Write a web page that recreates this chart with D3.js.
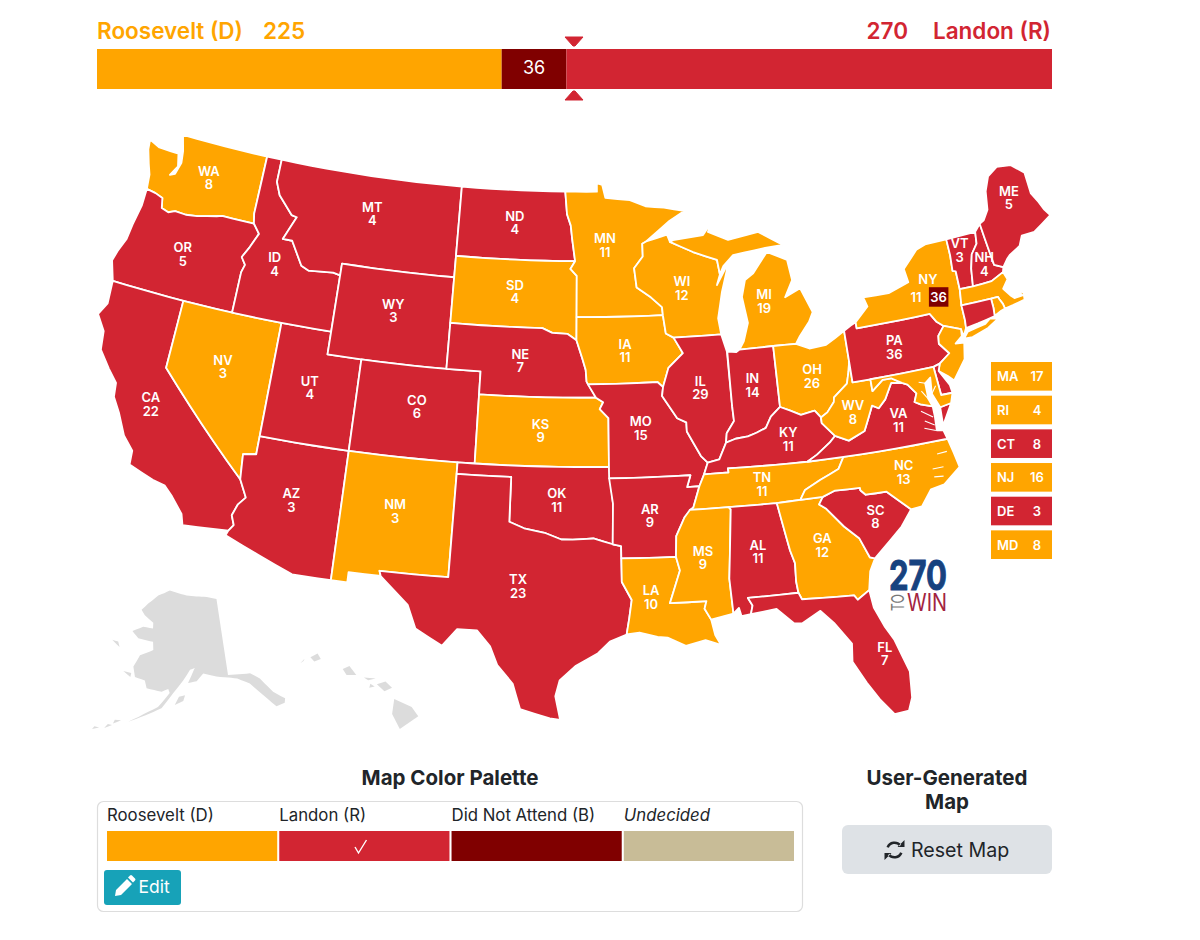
<!DOCTYPE html>
<html>
<head>
<meta charset="utf-8">
<script src="https://cdn.jsdelivr.net/npm/d3@7"></script>
<style>
body { margin: 0; background: #fff; }
text { font-family: Inter, "Noto Sans", sans-serif; }
</style>
</head>
<body>
<svg id="chart" width="1200" height="940"></svg>
<script>
// scoreboard
var candidates = ["Roosevelt (D)", "Landon (R)", "Did Not Attend (B)", "Undecided"];
var partyColors = ["#ffa500", "#d22532", "#800000", "#c8bc97"];
var barValues = [225, 36, 270];
var totalVotes = 531;

// states
var stateIds = ["WA","OR","CA","NV","ID","MT","WY","UT","AZ","CO","NM","ND","SD","NE","KS","OK","TX","MN","IA","MO","AR","LA","WI","IL","MI","IN","OH","KY","TN","MS","AL","GA","FL","SC","NC","VA","WV","PA","NY","VT","NH","ME"];
var stateVotes = [8,5,22,3,4,4,3,4,3,6,3,4,4,7,9,11,23,11,11,15,9,10,12,29,19,14,26,11,11,9,11,12,7,8,13,11,8,36,11,3,4,5];
var stateWinner = [0,1,1,0,1,1,1,1,1,1,0,1,0,1,0,1,1,0,0,1,1,0,0,1,0,1,0,1,0,0,1,0,1,1,0,1,0,1,0,1,1,1];
var labelAt = [[-120.37,47.6],[-120.73,44.07],[-120.3,37.43],[-116.83,39.73],[-115.1,44.55],[-109.6,47.48],[-107.5,43.38],[-111.72,39.56],[-111.7,34.63],[-105.5,39.35],[-106.1,34.75],[-100.4,47.66],[-100.2,44.65],[-99.7,41.66],[-98.4,38.66],[-97.42,35.67],[-99.36,31.88],[-94.6,46.75],[-93.5,42.13],[-92.73,38.75],[-92.4,34.93],[-92.5,31.39],[-89.9,44.73],[-89.2,40.35],[-84.95,43.85],[-86.18,40.26],[-82.7,40.34],[-84.5,37.77],[-86.22,35.97],[-89.7,32.99],[-86.8,33.06],[-83.4,33.02],[-81.05,27.95],[-80.4,33.91],[-78.5,35.6],[-78.25,37.86],[-80.7,38.54],[-77.7,40.99],[-75,43.29],[-72.62,44.49],[-71.37,43.63],[-68.8,46.14]];

// small states in the side boxes
var sideIds = ["MA","RI","CT","NJ","DE","MD"];
var sideVotes = [17,4,8,16,3,8];
var sideWinner = [0,0,1,0,1,0];

// outlines, lon/lat read by eye
var outlines = {
  WA: [[[-124.73,48.38],[-124,48.17],[-123.2,48.15],[-122.7,48.15],[-122.5,47.6],[-122.85,47.15],[-122.55,47.25],[-122.35,47.8],[-122.45,48.3],[-122.75,49],[-117.03,49],[-117.04,46.42],[-116.92,45.995],[-118.98,46],[-119.3,45.93],[-120.5,45.72],[-121.2,45.65],[-121.9,45.68],[-122.3,45.55],[-122.76,45.65],[-122.9,46.08],[-123.4,46.2],[-124,46.27],[-124.07,46.7],[-124.1,46.9],[-124.35,47.35],[-124.65,47.95]]],
  OR: [[[-124,46.27],[-123.4,46.2],[-122.9,46.08],[-122.76,45.65],[-122.3,45.55],[-121.9,45.68],[-121.2,45.65],[-120.5,45.72],[-119.3,45.93],[-118.98,46],[-116.92,45.995],[-116.47,45.6],[-116.85,44.95],[-117.2,44.45],[-116.9,44.15],[-117.03,43.8],[-117.03,42],[-120,42],[-124.35,42],[-124.75,42.84],[-124.6,43.3],[-124.3,43.9],[-124.2,44.6],[-124,45.5]]],
  CA: [[[-124.35,42],[-124.3,41.5],[-124.25,41],[-124.6,40.44],[-124,39.8],[-123.85,39],[-123.1,38.3],[-122.5,37.8],[-122.4,37.2],[-121.9,36.6],[-121.3,35.7],[-120.65,35.15],[-120.6,34.55],[-119.2,34.15],[-118.5,34.03],[-118,33.65],[-117.3,33],[-117.12,32.53],[-114.72,32.72],[-114.5,33],[-114.7,33.4],[-114.5,33.9],[-114.15,34.27],[-114.63,35],[-120,39],[-120,42]]],
  NV: [[[-120,42],[-114.04,42],[-114.04,36.2],[-114.75,36.1],[-114.63,35],[-120,39]]],
  AZ: [[[-114.04,37],[-109.05,37],[-109.05,31.33],[-111.07,31.33],[-114.81,32.5],[-114.72,32.72],[-114.5,33],[-114.7,33.4],[-114.5,33.9],[-114.15,34.27],[-114.63,35],[-114.75,36.1],[-114.04,36.2]]],
  UT: [[[-114.04,42],[-111.05,42],[-111.05,41],[-109.05,41],[-109.05,37],[-114.04,37]]],
  ID: [[[-117.03,49],[-116.05,49],[-116.05,48],[-115.7,47.45],[-114.7,46.7],[-114.35,46.65],[-114.95,45.6],[-114.35,45.6],[-113.5,44.6],[-113,44.45],[-111.5,44.55],[-111.05,44.48],[-111.05,42],[-114.04,42],[-117.03,42],[-117.03,43.8],[-116.9,44.15],[-117.2,44.45],[-116.85,44.95],[-116.47,45.6],[-116.92,45.995],[-117.04,46.42]]],
  MT: [[[-116.05,49],[-104.05,49],[-104.05,45],[-111.05,45],[-111.05,44.48],[-111.5,44.55],[-113,44.45],[-113.5,44.6],[-114.35,45.6],[-114.95,45.6],[-114.35,46.65],[-114.7,46.7],[-115.7,47.45],[-116.05,48]]],
  WY: [[[-111.05,45],[-104.05,45],[-104.05,41],[-111.05,41]]],
  CO: [[[-109.05,41],[-102.05,41],[-102.05,37],[-109.05,37]]],
  NM: [[[-109.05,37],[-103,37],[-103.04,32],[-106.62,32],[-106.53,31.78],[-108.2,31.78],[-108.2,31.33],[-109.05,31.33]]],
  ND: [[[-104.05,49],[-97.23,49],[-97.1,48],[-96.85,47.5],[-96.75,46.9],[-96.56,45.94],[-104.05,45.94]]],
  SD: [[[-104.05,45.94],[-96.56,45.94],[-96.85,45.6],[-96.45,45.3],[-96.45,43.5],[-96.45,42.49],[-97,42.77],[-97.9,42.8],[-98.5,43],[-104.05,43]]],
  NE: [[[-104.05,43],[-98.5,43],[-97.9,42.8],[-97,42.77],[-96.45,42.49],[-96.1,41.7],[-95.9,41.2],[-95.85,40.7],[-95.31,40],[-102.05,40],[-102.05,41],[-104.05,41]]],
  KS: [[[-102.05,40],[-95.31,40],[-94.9,39.8],[-95.1,39.5],[-94.61,39.11],[-94.62,37],[-102.05,37]]],
  OK: [[[-103,37],[-94.62,37],[-94.43,35.4],[-94.48,33.64],[-95.5,33.9],[-96.6,33.85],[-97.2,33.85],[-98.1,34.13],[-99.2,34.3],[-100,34.56],[-100,36.5],[-103,36.5]]],
  TX: [[[-103,36.5],[-100,36.5],[-100,34.56],[-99.2,34.3],[-98.1,34.13],[-97.2,33.85],[-96.6,33.85],[-95.5,33.9],[-94.48,33.64],[-94.04,33.55],[-94.04,33.02],[-94.04,31.99],[-93.55,31.2],[-93.7,30.4],[-93.85,29.7],[-94.7,29.4],[-95.3,28.9],[-96.4,28.35],[-97.2,27.7],[-97.4,27],[-97.15,25.96],[-97.65,26.02],[-99.1,26.4],[-99.5,27.5],[-100.3,28.3],[-100.7,29.1],[-101.4,29.77],[-102.4,29.77],[-103.1,29],[-104.5,29.65],[-105,30.65],[-106.53,31.78],[-106.62,32],[-103.04,32]]],
  MN: [[[-97.23,49],[-95.15,49],[-95.15,49.38],[-94.8,49.3],[-94.6,48.72],[-93,48.6],[-92,48.3],[-90.8,48.2],[-89.5,48],[-90.5,47.6],[-92.05,46.75],[-92.3,46.66],[-92.3,46.1],[-92.87,45.6],[-92.75,44.75],[-91.9,44.3],[-91.25,43.85],[-91.22,43.5],[-96.45,43.5],[-96.45,45.3],[-96.85,45.6],[-96.56,45.94],[-96.75,46.9],[-96.85,47.5],[-97.1,48]]],
  IA: [[[-96.45,43.5],[-91.22,43.5],[-91.1,42.7],[-90.65,42.5],[-90.15,41.8],[-91.05,41.2],[-91.42,40.38],[-91.73,40.61],[-95.77,40.58],[-95.85,40.7],[-95.9,41.2],[-96.1,41.7],[-96.45,42.49]]],
  MO: [[[-95.77,40.58],[-91.73,40.61],[-91.42,40.38],[-91.5,40],[-90.7,39],[-90.2,38.8],[-90.2,38.4],[-89.5,37.3],[-89.15,37],[-89.4,36.5],[-89.7,36],[-90.37,36],[-90.15,36.5],[-94.62,36.5],[-94.62,37],[-94.61,39.11],[-95.1,39.5],[-94.9,39.8],[-95.31,40]]],
  AR: [[[-94.62,36.5],[-90.15,36.5],[-90.37,36],[-89.7,36],[-90.1,35.1],[-90.6,34.7],[-91.1,33.9],[-91.17,33],[-94.04,33.02],[-94.04,33.55],[-94.48,33.64],[-94.43,35.4]]],
  LA: [[[-94.04,33.02],[-91.17,33],[-91,32.4],[-91.6,31],[-89.73,31],[-89.85,30.67],[-89.55,30.18],[-89.4,29.5],[-89.15,29.05],[-89.9,29.3],[-90.9,29.1],[-91.8,29.5],[-92.3,29.55],[-93.2,29.77],[-93.85,29.7],[-93.7,30.4],[-93.55,31.2],[-94.04,31.99]]],
  WI: [[[-92.3,46.66],[-92.05,46.75],[-90.7,47],[-90.54,46.68],[-89.12,46.17],[-87.66,45.74],[-87.56,45.1],[-87.8,44.65],[-86.95,45.6],[-87.53,44.33],[-87.9,43.2],[-87.8,42.49],[-90.65,42.5],[-91.1,42.7],[-91.22,43.5],[-91.25,43.85],[-91.9,44.3],[-92.75,44.75],[-92.87,45.6],[-92.3,46.1]]],
  IL: [[[-90.65,42.5],[-87.8,42.49],[-87.55,41.72],[-87.53,39.35],[-87.5,38.7],[-87.97,38.2],[-88.05,37.8],[-88.5,37.1],[-89.15,37],[-89.5,37.3],[-90.2,38.4],[-90.2,38.8],[-90.7,39],[-91.5,40],[-91.42,40.38],[-91.05,41.2],[-90.15,41.8]]],
  MI: [[[-86.8,41.76],[-84.8,41.76],[-83.45,41.73],[-83.15,42.05],[-82.5,42.6],[-82.2,43],[-82.75,44.1],[-83.73,43.8],[-83.17,44.5],[-83.31,45.4],[-84.5,45.86],[-85.05,45.4],[-85.5,45],[-86.05,44.75],[-86.34,44.03],[-86.14,42.88],[-86.5,42.1]],
       [[-90.54,46.68],[-89.12,46.17],[-87.66,45.74],[-87.56,45.1],[-87.3,45.45],[-86.63,45.89],[-84.58,46.05],[-83.44,46.08],[-84.9,46.78],[-86.85,46.57],[-88.08,47],[-87.69,47.5],[-88.41,46.88],[-90.34,46.75]],
       [[-89.1,47.95],[-88.45,48.18],[-88.95,48.02]]],
  IN: [[[-87.53,41.72],[-87,41.67],[-86.8,41.76],[-84.8,41.76],[-84.82,39.1],[-85.4,38.73],[-85.75,38.27],[-86.3,38.1],[-86.8,37.98],[-87.5,37.93],[-88.05,37.8],[-87.97,38.2],[-87.5,38.7],[-87.53,39.35]]],
  OH: [[[-84.8,41.76],[-83.45,41.73],[-82.7,41.45],[-81.7,41.5],[-80.52,41.98],[-80.52,40.64],[-80.65,40.2],[-80.85,39.7],[-81.7,39.2],[-81.75,39],[-82.2,38.6],[-82.6,38.42],[-82.9,38.75],[-83.7,38.65],[-84.3,38.9],[-84.82,39.1]]],
  KY: [[[-89.4,36.5],[-88.05,36.5],[-88.07,36.68],[-83.68,36.6],[-83.1,36.85],[-82.3,37.3],[-81.97,37.54],[-82.6,38.17],[-82.6,38.42],[-82.9,38.75],[-83.7,38.65],[-84.3,38.9],[-84.82,39.1],[-85.4,38.73],[-85.75,38.27],[-86.3,38.1],[-86.8,37.98],[-87.5,37.93],[-88.05,37.8],[-88.5,37.1],[-89.15,37]]],
  TN: [[[-90.3,35],[-88.2,35],[-85.6,34.98],[-84.32,35],[-84,35.4],[-83.1,35.75],[-82.05,36.1],[-81.68,36.59],[-83.68,36.6],[-88.07,36.68],[-88.05,36.5],[-89.4,36.5],[-89.7,36],[-90.1,35.1]]],
  MS: [[[-91.17,33],[-91.1,33.9],[-90.6,34.7],[-90.3,35],[-88.2,35],[-88.1,34.9],[-88.47,31.9],[-88.4,30.37],[-89.55,30.18],[-89.85,30.67],[-89.73,31],[-91.6,31],[-91,32.4]]],
  AL: [[[-88.2,35],[-85.6,34.98],[-85.18,32.87],[-85,32.3],[-85.05,31.5],[-85,31],[-87.6,31],[-87.4,30.65],[-87.52,30.28],[-88,30.23],[-88.1,30.6],[-88.4,30.37],[-88.47,31.9],[-88.1,34.9]]],
  GA: [[[-85.6,34.98],[-84.32,35],[-83.1,35],[-83.35,34.7],[-83,34.47],[-82.2,33.6],[-81.5,33],[-81.1,32.1],[-80.85,32.03],[-81.2,31.5],[-81.4,30.7],[-82.05,30.36],[-82.2,30.57],[-84.86,30.7],[-85,31],[-85.05,31.5],[-85,32.3],[-85.18,32.87]]],
  FL: [[[-87.6,31],[-85,31],[-84.86,30.7],[-82.2,30.57],[-82.05,30.36],[-81.4,30.7],[-81.3,29.9],[-80.9,29],[-80.55,28.4],[-80.05,26.9],[-80.15,25.75],[-80.4,25.2],[-81.1,25.15],[-81.7,25.9],[-82.2,26.7],[-82.75,27.7],[-82.65,28.5],[-83.4,29.5],[-84,30.1],[-85,29.65],[-85.4,29.7],[-86.2,30.4],[-87.52,30.28],[-87.4,30.65]],
       [[-81.8,24.5],[-81,24.7],[-80.5,25],[-80.9,24.78]]],
  SC: [[[-83.1,35],[-82.4,35.2],[-81.05,35.15],[-81.05,35.05],[-80.8,34.82],[-79.67,34.8],[-78.55,33.86],[-79.2,33.2],[-79.9,32.7],[-80.85,32.03],[-81.1,32.1],[-81.5,33],[-82.2,33.6],[-83,34.47],[-83.35,34.7]]],
  NC: [[[-84.32,35],[-83.1,35],[-82.4,35.2],[-81.05,35.15],[-81.05,35.05],[-80.8,34.82],[-79.67,34.8],[-78.55,33.86],[-77.95,33.9],[-77.3,34.55],[-76.55,34.65],[-75.55,35.25],[-75.7,35.9],[-75.87,36.55],[-81.68,36.59],[-82.05,36.1],[-83.1,35.75],[-84,35.4]]],
  VA: [[[-83.68,36.6],[-81.68,36.59],[-75.87,36.55],[-76,36.95],[-76.35,37],[-76.3,37.6],[-76.3,38.05],[-76.95,38.25],[-77.25,38.4],[-77.05,38.75],[-77.45,39.2],[-77.75,39.32],[-78.35,39.4],[-78.85,38.75],[-79.3,38.42],[-79.65,38.58],[-80.3,37.55],[-81.25,37.25],[-81.97,37.54],[-82.3,37.3],[-83.1,36.85]],
       [[-75.25,38.03],[-75.9,37.95],[-75.95,37.15]]],
  WV: [[[-80.52,40.64],[-80.52,39.72],[-79.48,39.72],[-79.48,39.2],[-78.8,39.6],[-78.3,39.6],[-77.75,39.32],[-78.35,39.4],[-78.85,38.75],[-79.3,38.42],[-79.65,38.58],[-80.3,37.55],[-81.25,37.25],[-81.97,37.54],[-82.6,38.17],[-82.6,38.42],[-82.2,38.6],[-81.75,39],[-81.7,39.2],[-80.85,39.7],[-80.65,40.2]]],
  PA: [[[-80.52,41.98],[-80.08,42.16],[-79.76,42.27],[-79.76,42],[-75.35,42],[-75.05,41.6],[-74.7,41.36],[-75.13,40.99],[-75.2,40.65],[-74.73,40.15],[-75.4,39.8],[-75.79,39.72],[-80.52,39.72],[-80.52,40.64]]],
  NY: [[[-79.76,42.27],[-78.9,42.85],[-79.05,43.27],[-77.5,43.25],[-76.2,43.55],[-76.3,44.15],[-75.3,44.85],[-74.7,45],[-73.35,45],[-73.35,44.3],[-73.43,43.6],[-73.25,43.55],[-73.27,42.75],[-73.4,42.05],[-73.4,41.4],[-73.45,41.05],[-73.7,40.72],[-73.75,41.05],[-74.7,41.36],[-75.05,41.6],[-75.35,42],[-79.76,42]],
       [[-73.7,40.62],[-73.4,40.88],[-72.3,41.02],[-71.95,41.2],[-71.5,41.1],[-72.2,40.82],[-73.2,40.6]]],
  VT: [[[-73.35,45],[-71.5,45.01],[-71.6,44.5],[-72.05,44.1],[-72.3,43.5],[-72.46,42.73],[-73.27,42.75],[-73.25,43.55],[-73.43,43.6],[-73.35,44.3]]],
  NH: [[[-71.5,45.01],[-71.1,45.3],[-71.03,44.6],[-70.9,43.4],[-70.4,43.2],[-70.5,43],[-71.3,42.75],[-72.46,42.73],[-72.3,43.5],[-72.05,44.1],[-71.6,44.5]]],
  ME: [[[-71.1,45.3],[-70.8,45.4],[-70.4,45.8],[-70.2,46.6],[-69.8,47.2],[-69.1,47.5],[-68.2,47.4],[-67.5,46.9],[-67.5,45.95],[-67.2,45.5],[-67,45.1],[-66.75,44.8],[-68,44.3],[-68.8,44.3],[-69.1,43.9],[-69.8,43.65],[-70.05,43.5],[-70.4,43.2],[-70.9,43.4],[-71.03,44.6]]],
  MA: [[[-73.4,42.05],[-73.27,42.75],[-72.46,42.73],[-71.3,42.75],[-70.5,43],[-70.35,42.65],[-70.75,42.3],[-70.45,41.95],[-70.25,41.78],[-69.75,41.8],[-69.95,42.07],[-69.65,41.9],[-69.7,41.6],[-70.45,41.5],[-70.95,41.45],[-71,41.67],[-71.13,41.9],[-71.18,42.02],[-71.6,42.02]]],
  RI: [[[-71.6,42.02],[-71.18,42.02],[-71.13,41.9],[-71,41.67],[-70.95,41.45],[-71.2,41.4],[-71.65,41.25],[-71.6,41.6]]],
  CT: [[[-73.4,42.05],[-71.6,42.02],[-71.6,41.6],[-71.65,41.25],[-72.7,41.12],[-73.45,41.05],[-73.4,41.4]]],
  NJ: [[[-74.7,41.36],[-73.75,41.05],[-73.8,40.75],[-74.25,40.5],[-73.75,40.45],[-73.95,39.75],[-74.8,38.95],[-75.1,39.2],[-75.55,39.5],[-75.4,39.8],[-74.73,40.15],[-75.2,40.65],[-75.13,40.99]]],
  DE: [[[-75.79,39.72],[-75.4,39.8],[-75.55,39.5],[-75.1,38.8],[-75.05,38.45],[-75.7,38.46]]],
  MD: [[[-79.48,39.72],[-75.79,39.72],[-75.7,38.46],[-75.05,38.45],[-75.25,38.03],[-75.9,37.95],[-76.2,38.6],[-76.1,39.3],[-76.45,39.1],[-76.45,38.4],[-76.3,38.05],[-76.95,38.25],[-77.25,38.4],[-77.05,38.75],[-77.45,39.2],[-77.75,39.32],[-78.3,39.6],[-78.8,39.6],[-79.48,39.2]]]
};
var sideWinnerById = {};
sideIds.forEach(function(id, i) { sideWinnerById[id] = sideWinner[i]; });

// rivers and sounds that show as white cuts
var inlets = [
  [[-77,37.95],[-76.4,37.6]], [[-76.9,37.5],[-76.4,37.25]], [[-77,37.2],[-76.4,37]],
  [[-76.6,36],[-76.05,36.02]], [[-77,35.4],[-76.4,35.4]], [[-77,35.05],[-76.5,35]],
  [[-76.8,39.2],[-76.45,39.1]], [[-76.75,38.8],[-76.45,38.4]], [[-75.9,38.9],[-76.2,38.6]]
];

var alaska = [
  [[-141,69.7],[-141,60.3],[-135.6,60],[-133.6,59.1],[-131.5,57.1],[-129.4,55.9],[-129.8,55.4],[-131.7,55.3],[-133.9,57.1],[-136.2,58.8],[-138.9,59.7],[-141,60],[-143.9,60.3],[-147.1,60.8],[-148.8,59.9],[-150.9,59.7],[-149.2,61.5],[-150.4,61.3],[-152.1,60],[-154.4,58.4],[-156.8,56.5],[-160.2,55.4],[-163.5,54.3],[-159.6,55.9],[-157.6,56.6],[-155.2,58.4],[-155.6,58.9],[-157.1,58.5],[-160.7,58.7],[-161.4,59.6],[-163.9,59.8],[-164.8,61],[-163.7,62.5],[-160.4,63.4],[-160.8,64.4],[-165.1,64.5],[-167.2,65.2],[-164.4,66],[-161.4,66],[-161.6,66.7],[-164.6,67.4],[-166,68],[-164.3,68.9],[-161.4,70.1],[-157.5,70.9],[-151.4,70.4],[-144.3,70.1]],
  [[-153.9,57],[-152,57.5],[-151.6,58.2],[-153,58]],
  [[-172,63.5],[-169.5,62.9],[-170.3,63.5]],
  [[-167,60.2],[-165,59.7],[-165,60.2]],
  [[-165,54.3],[-166.5,53.7],[-166.3,54.2]],
  [[-166.6,53.5],[-168,52.9],[-167.5,53.5]],
  [[-169,52.8],[-170.3,52.4],[-170,52.8]]
];
var hawaii = [
  [[-155.9,20.25],[-155.1,19.9],[-154.8,19.5],[-155.65,18.95],[-156,19.6]],
  [[-156.7,20.9],[-156.35,20.6],[-156,20.75],[-156.3,21.02]],
  [[-157.3,21.2],[-156.75,21.15],[-157.1,21.08]],
  [[-158.28,21.57],[-157.97,21.7],[-157.65,21.3],[-158.1,21.3]],
  [[-159.78,22.07],[-159.45,22.23],[-159.3,22],[-159.6,21.88]],
  [[-160.25,21.8],[-160.05,22],[-160.1,21.9]],
  [[-157,20.92],[-156.8,20.8],[-157.05,20.75]]
];

var svg = d3.select("#chart");

// scoreboard bar
var barScale = d3.scaleLinear().domain([0, totalVotes]).range([97, 1052]);
var barTop = 49, barHeight = 40;
var cum = 0;
var barColors = [partyColors[0], partyColors[2], partyColors[1]];
barValues.forEach(function(v, i) {
    svg.append("rect")
        .attr("x", barScale(cum)).attr("y", barTop)
        .attr("width", barScale(cum + v) - barScale(cum)).attr("height", barHeight)
        .attr("fill", barColors[i]);
    cum += v;
});
svg.append("text").attr("x", barScale(225 + 18)).attr("y", 74)
    .attr("text-anchor", "middle").attr("fill", "#fff").attr("font-size", 18).text(barValues[1]);

var boldTop = function(x, anchor, color, txt) {
    svg.append("text").attr("x", x).attr("y", 39).attr("text-anchor", anchor)
        .attr("fill", color).attr("font-size", 22.5).attr("font-weight", 600).text(txt);
};
boldTop(97, "start", partyColors[0], candidates[0]);
boldTop(263, "start", partyColors[0], barValues[0]);
boldTop(908, "end", partyColors[1], barValues[2]);
boldTop(1051, "end", partyColors[1], candidates[1]);

// 270 markers
var mid = barScale(totalVotes / 2) - 0.5;
svg.append("path").attr("fill", partyColors[1]).attr("stroke", partyColors[1]).attr("stroke-linejoin", "round")
    .attr("d", "M" + (mid - 9) + ",37 h18 l-8,9 h-2 z");
svg.append("path").attr("fill", partyColors[1]).attr("stroke", partyColors[1]).attr("stroke-linejoin", "round")
    .attr("d", "M" + (mid - 9) + ",100 h18 l-8,-9 h-2 z");

// map
var projection = d3.geoAlbers().parallels([29.5, 45.5]).rotate([96, 0]).center([0, 37])
    .scale(1310).translate([584, 467]);
var path = d3.geoPath(projection);

// long edges have to follow the parallels, so split them before projecting
var densify = function(ring) {
    var out = [];
    ring.forEach(function(p, i) {
        var q = ring[(i + 1) % ring.length];
        var n = Math.ceil(Math.max(Math.abs(q[0] - p[0]), Math.abs(q[1] - p[1])));
        for (var k = 0; k < n; k++) {
            out.push([p[0] + (q[0] - p[0]) * k / n, p[1] + (q[1] - p[1]) * k / n]);
        }
    });
    out.push(out[0]);
    return out;
};
var toFeature = function(id, rings, color) {
    var polys = rings.map(function(r) {
        var ring = densify(r);
        // d3-geo wants clockwise rings
        if (d3.geoArea({type: "Polygon", coordinates: [ring]}) > 2 * Math.PI) ring.reverse();
        return [ring];
    });
    return {type: "Feature", id: id, color: color, geometry: {type: "MultiPolygon", coordinates: polys}};
};

var features = Object.keys(outlines).map(function(id) {
    var i = stateIds.indexOf(id);
    var w = i >= 0 ? stateWinner[i] : sideWinnerById[id];
    return toFeature(id, outlines[id], partyColors[w]);
});

var gray = "#dcdcdc";
var akProjection = d3.geoConicEqualArea().parallels([55, 65]).rotate([151, 0]).center([10, 60.3])
    .scale(470).translate([228, 675]);
var hiProjection = d3.geoConicEqualArea().parallels([8, 18]).rotate([157, 0]).center([1.5, 19.6])
    .scale(1320).translate([403, 714]);

svg.append("g").selectAll("path").data(alaska).enter().append("path")
    .attr("fill", gray)
    .attr("d", function(r) { return d3.geoPath(akProjection)(toFeature("AK", [r]).geometry); });
svg.append("g").selectAll("path").data(hawaii).enter().append("path")
    .attr("fill", gray)
    .attr("d", function(r) { return d3.geoPath(hiProjection)(toFeature("HI", [r]).geometry); });

svg.append("g").selectAll("path").data(features).enter().append("path")
    .attr("d", path)
    .attr("fill", function(d) { return d.color; })
    .attr("stroke", "#fff").attr("stroke-width", 1.8).attr("stroke-linejoin", "round");

svg.append("g").selectAll("path").data(inlets).enter().append("path")
    .attr("d", function(l) { return path({type: "LineString", coordinates: l}); })
    .attr("fill", "none").attr("stroke", "#fff").attr("stroke-width", 1.1);

// state labels
var labels = svg.append("g").attr("transform", "translate(-1,0.5)").attr("fill", "#fff").attr("font-size", 13).attr("font-weight", 600).attr("text-anchor", "middle");
stateIds.forEach(function(id, i) {
    var p = projection(labelAt[i]);
    if (id === "NY") {
        labels.append("text").attr("x", p[0]).attr("y", p[1]).text(id);
        labels.append("text").attr("x", p[0] - 12).attr("y", p[1] + 18).text(stateVotes[i]);
        labels.append("rect").attr("x", p[0] + 1).attr("y", p[1] + 3).attr("width", 19.5).attr("height", 19.5).attr("fill", partyColors[2]);
        labels.append("text").attr("x", p[0] + 10.7).attr("y", p[1] + 18).text(barValues[1]);
    } else {
        var t = labels.append("text").attr("x", p[0]).attr("y", p[1]);
        t.append("tspan").text(id);
        t.append("tspan").attr("x", p[0]).attr("dy", 13.5).text(stateVotes[i]);
    }
});

// side boxes
var sideY = d3.scaleBand().domain(sideIds).range([362, 559]).paddingInner(0.15);
var side = svg.append("g").selectAll("g").data(sideIds).enter().append("g");
side.append("rect").attr("x", 991).attr("width", 61)
    .attr("y", function(d) { return sideY(d); }).attr("height", sideY.bandwidth())
    .attr("fill", function(d, i) { return partyColors[sideWinner[i]]; });
side.append("text").attr("x", 997).attr("y", function(d) { return sideY(d) + sideY.bandwidth() / 2 + 5; })
    .attr("fill", "#fff").attr("font-size", 13).attr("font-weight", 600).text(function(d) { return d; });
side.append("text").attr("x", 1037).attr("y", function(d) { return sideY(d) + sideY.bandwidth() / 2 + 5; })
    .attr("text-anchor", "middle").attr("fill", "#fff").attr("font-size", 13).attr("font-weight", 600)
    .text(function(d, i) { return sideVotes[i]; });

// logo
var logo = svg.append("g");
logo.append("text").attr("transform", "translate(889,590) scale(1,1.25)").attr("fill", "#17427f")
    .attr("stroke", "#17427f").attr("stroke-width", 0.8)
    .attr("font-family", "Liberation Sans Narrow").attr("font-weight", 700).attr("font-size", 33)
    .attr("textLength", 58).attr("lengthAdjust", "spacingAndGlyphs").text("270");
logo.append("text").attr("transform", "translate(904,611) rotate(-90)").attr("fill", "#777")
    .attr("font-family", "Liberation Sans Narrow").attr("font-size", 17).attr("textLength", 17).attr("lengthAdjust", "spacingAndGlyphs").text("TO");
logo.append("text").attr("transform", "translate(907,611) scale(1,1.15)").attr("fill", "#a3243f")
    .attr("font-family", "Liberation Sans Narrow").attr("font-size", 21)
    .attr("textLength", 40).attr("lengthAdjust", "spacingAndGlyphs").text("WIN");

// palette
var dark = "#212529";
svg.append("text").attr("x", 450).attr("y", 785).attr("text-anchor", "middle")
    .attr("fill", dark).attr("font-size", 20.5).attr("font-weight", 700).text("Map Color Palette");
svg.append("rect").attr("x", 97.5).attr("y", 801.5).attr("width", 705).attr("height", 110).attr("rx", 6)
    .attr("fill", "#fff").attr("stroke", "#ddd").attr("stroke-width", 1.2);
var swatchX = d3.scaleBand().domain(candidates).range([107, 794]).paddingInner(0.012);
var swatches = svg.append("g").selectAll("g").data(candidates).enter().append("g");
swatches.append("rect").attr("x", function(d) { return swatchX(d); }).attr("y", 831)
    .attr("width", swatchX.bandwidth()).attr("height", 30)
    .attr("fill", function(d, i) { return partyColors[i]; });
swatches.append("text").attr("x", function(d) { return swatchX(d); }).attr("y", 821)
    .attr("fill", dark).attr("font-size", 16.8)
    .attr("font-style", function(d) { return d === "Undecided" ? "italic" : "normal"; })
    .text(function(d) { return d; });
svg.append("path").attr("d", "M355,847 l3.5,6 l8,-13").attr("fill", "none").attr("stroke", "#fff").attr("stroke-width", 1.4);

// edit button
svg.append("rect").attr("x", 104).attr("y", 870).attr("width", 77).attr("height", 35).attr("rx", 3).attr("fill", "#17a2b8");
svg.append("path").attr("fill", "#fff")
    .attr("d", "M116,890 l11,-11 l5,5 l-11,11 l-6,1 z M128,877.5 l2,-2 q1,-1 2,0 l3,3 q1,1 0,2 l-2,2 z");
svg.append("text").attr("x", 138.5).attr("y", 893).attr("fill", "#fff").attr("font-size", 17.5).text("Edit");

// user generated map
svg.append("text").attr("x", 947).attr("y", 785).attr("text-anchor", "middle")
    .attr("fill", dark).attr("font-size", 20.5).attr("font-weight", 700).text("User-Generated");
svg.append("text").attr("x", 947).attr("y", 809).attr("text-anchor", "middle")
    .attr("fill", dark).attr("font-size", 20.5).attr("font-weight", 700).text("Map");
svg.append("rect").attr("x", 842).attr("y", 825).attr("width", 210).attr("height", 49).attr("rx", 6).attr("fill", "#dee2e6");
var arc = d3.arc().innerRadius(6).outerRadius(8.6);
svg.append("path").attr("transform", "translate(894.5,850)").attr("fill", dark)
    .attr("d", arc({startAngle: -1.2, endAngle: 0.9}) + arc({startAngle: 1.95, endAngle: 4.05}) + "M3,-3 h7 v-7 z M-3,3 h-7 v7 z");
svg.append("text").attr("x", 911).attr("y", 857).attr("fill", dark).attr("font-size", 19.6).text("Reset Map");
</script>
</body>
</html>
